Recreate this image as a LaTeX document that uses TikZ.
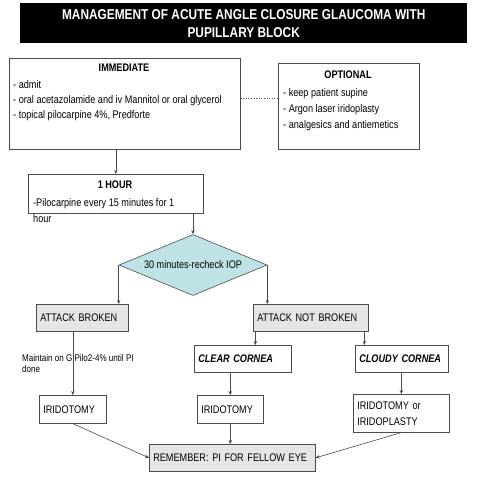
\documentclass[tikz,border=0pt]{standalone}
\usepackage{fontspec}
\setmainfont{Liberation Sans}[FakeStretch=0.83]
\usetikzlibrary{shapes.geometric, positioning, arrows.meta}
\definecolor{edgegray}{rgb}{0.3,0.3,0.3}
\definecolor{boxgray}{rgb}{0.9,0.9,0.9}
\definecolor{iopcyan}{rgb}{0.75,0.89,0.9}
\tikzset{
    x=1pt, y=-1pt,
    >={Stealth[length=4pt,width=3.5pt]}, % small filled heads
    box/.style={draw=edgegray, line width=0.6pt, inner xsep=4pt, inner ysep=0pt,
        anchor=north west, align=left, font=\fontsize{11}{15}\selectfont},
    shadebox/.style={box, fill=boxgray},
    boxtext/.style={inner sep=0pt, anchor=north west, align=left, font=\fontsize{11}{15}\selectfont},
    boxhead/.style={inner sep=0pt, font=\fontsize{11}{12}\selectfont\bfseries},
    link/.style={draw=edgegray, line width=0.6pt},
    arr/.style={link, ->},
}
\begin{document}
\begin{tikzpicture}
    \useasboundingbox (0,0) rectangle (480,480);

    % title bar
    \node[fill=black, text=white, minimum width=447, minimum height=40, anchor=north west,
          align=center, inner sep=0pt, font=\fontsize{14.3}{18}\selectfont\bfseries]
        (title) at (20,3) {MANAGEMENT OF ACUTE ANGLE CLOSURE GLAUCOMA WITH\\PUPILLARY BLOCK};

    % first steps
    \node[box, minimum width=231, minimum height=91] (imm) at (9,58) {};
    \node[boxhead] (immhead) at (124,68) {IMMEDIATE};
    \node[boxtext] (immtext) at (13,80) {- admit\\- oral acetazolamide and iv Mannitol or oral glycerol\\- topical pilocarpine 4\%, Predforte};

    \node[box, minimum width=141, minimum height=86] (opt) at (278,63) {};
    \node[boxhead] (opthead) at (348,75) {OPTIONAL};
    \node[boxtext, font=\fontsize{11}{16}\selectfont] (opttext) at (283,88) {- keep patient supine\\- Argon laser iridoplasty\\- analgesics and antiemetics};

    \node[box, minimum width=175, minimum height=39] (hour) at (28,174) {};
    \node[boxhead] (hourhead) at (115,185) {1 HOUR};
    \node[boxtext, font=\fontsize{11}{16}\selectfont] (hourtext) at (33,198) {-Pilocarpine every 15 minutes for 1\\hour};

    \node[diamond, draw=edgegray, line width=0.6pt, fill=iopcyan, inner sep=0pt, aspect=2.43,
          minimum width=148, minimum height=61, font=\fontsize{11}{12}\selectfont]
        (iop) at (193,265) {30 minutes-recheck IOP};

    % outcome of the recheck
    \node[shadebox, minimum width=92, minimum height=27, text width=84] (broken) at (36,304) {ATTACK BROKEN};
    \node[shadebox, minimum width=115, minimum height=27, text width=107] (notbroken) at (253,304) {ATTACK NOT BROKEN};
    \node[box, minimum width=97, minimum height=27, text width=89, font=\fontsize{11}{12}\selectfont\bfseries\itshape] (clear) at (194,345) {CLEAR CORNEA};
    \node[box, minimum width=93, minimum height=27, text width=85, font=\fontsize{11}{12}\selectfont\bfseries\itshape] (cloudy) at (355,345) {CLOUDY CORNEA};
    \node[boxtext, font=\fontsize{9.7}{11.5}\selectfont] (maintain) at (22,354) {Maintain on G.Pilo2-4\% until PI\\done};

    \node[box, minimum width=67, minimum height=28, text width=59] (irid1) at (39,395) {IRIDOTOMY};
    \node[box, minimum width=66, minimum height=28, text width=58] (irid2) at (197,395) {IRIDOTOMY};
    \node[box, minimum width=96, minimum height=38, text width=88, font=\fontsize{11}{16}\selectfont] (irid3) at (353,394) {IRIDOTOMY or\\IRIDOPLASTY};
    \node[shadebox, minimum width=166, minimum height=27, text width=158] (remember) at (149,444) {REMEMBER: PI FOR FELLOW EYE};

    % connectors
    \draw[link, dotted] ([yshift=5.5]imm.east) -- ([yshift=5.5]imm.east -| opt.west);
    \draw[arr] (hour.north |- imm.south) -- (hour.north);
    \draw[arr] (iop.north |- hour.south) -- (iop.north);
    \draw[arr] (iop.west) -- (iop.west |- broken.north);
    \draw[arr] (iop.east) -- (iop.east |- notbroken.north);
    \draw[arr] ([xshift=-55.5]notbroken.south) -- ([xshift=-55.5]notbroken.south |- clear.north);
    \draw[arr] ([xshift=53.5]notbroken.south) -- ([xshift=53.5]notbroken.south |- cloudy.north);
    \draw[arr] (irid1.north |- broken.south) -- (irid1.north);
    \draw[arr] (irid2.north |- clear.south) -- (irid2.north);
    \draw[arr] (irid3.north |- cloudy.south) -- (irid3.north);
    \draw[arr] (irid1.south) -- (remember.west);
    \draw[arr] (irid2.south) -- (irid2.south |- remember.north);
    \draw[arr] (irid3.south) -- (remember.east);
\end{tikzpicture}
\end{document}
